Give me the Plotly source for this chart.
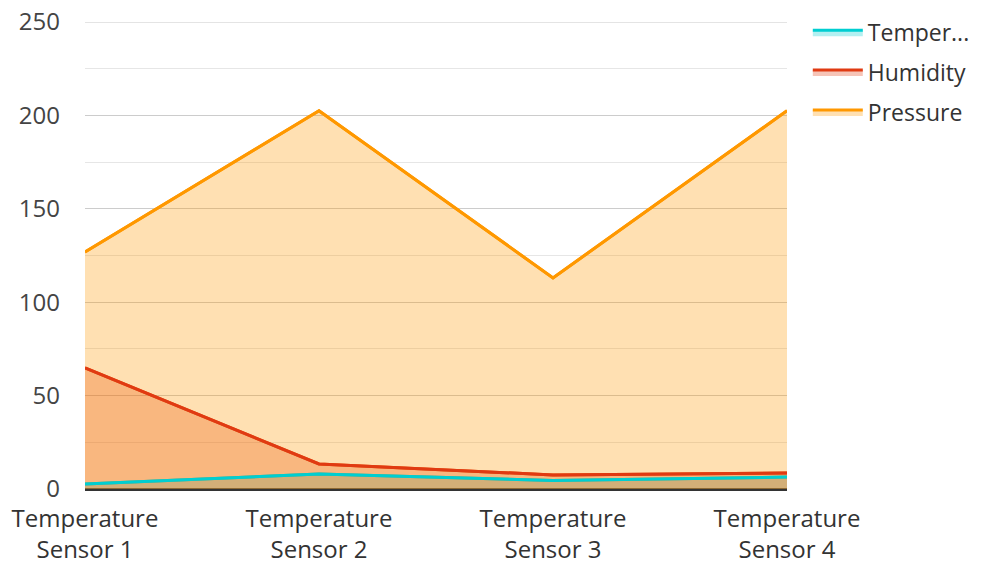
import plotly.graph_objects as go

categories = ["Temperature<br>Sensor 1", "Temperature<br>Sensor 2", "Temperature<br>Sensor 3", "Temperature<br>Sensor 4"]
series_names = ["Temper...", "Humidity", "Pressure"]
temperature = [2.7, 8.0, 4.6, 6.4]
humidity = [64.8, 13.4, 7.5, 8.6]
pressure = [126.9, 202.5, 113.0, 202.5]
y_ticks = [0, 50, 100, 150, 200, 250]
line_colors = ["#00CED1", "#E03A12", "#FF9800"]
fill_colors = ["rgba(0,206,209,0.3)", "rgba(224,58,18,0.3)", "rgba(255,152,0,0.3)"]
series_values = [temperature, humidity, pressure]

fig = go.Figure()
# fills (with legend entries) in series order
for i, (name, vals, lc, fc) in enumerate(zip(series_names, series_values, line_colors, fill_colors)):
    fig.add_trace(go.Scatter(
        x=categories, y=vals, name=name, mode="lines", legendgroup=name, legendrank=i + 1,
        line=dict(color=lc, width=3), fill="tozeroy", fillcolor=fc,
    ))
# lines on top of all fills, Temperature drawn last
for name, vals, lc in reversed(list(zip(series_names, series_values, line_colors))):
    fig.add_trace(go.Scatter(
        x=categories, y=vals, name=name, mode="lines", legendgroup=name, showlegend=False,
        line=dict(color=lc, width=3), hoverinfo="skip",
    ))

# top gridline at the edge of the plot
fig.add_hline(y=y_ticks[-1], line=dict(color="#cccccc", width=1), layer="below")

# page body has an 8px offset, so the figure is shifted accordingly
fig.update_layout(
    width=973, height=553,
    margin=dict(l=77, r=194, t=14, b=72),
    paper_bgcolor="white", plot_bgcolor="white",
    font=dict(family="Open Sans, Noto Sans, sans-serif", size=24, color="#444444"),
    showlegend=True,
    legend=dict(xref="container", yref="container", x=0.822, y=0.995,
                xanchor="left", yanchor="top",
                font=dict(size=23, color="#333333"), traceorder="grouped",
                itemwidth=50, tracegroupgap=7),
)
fig.update_xaxes(
    range=[0, 3], showgrid=False, showline=False, zeroline=False, automargin=False,
    tickfont=dict(size=24, color="#333333"), ticks="", ticklabelstandoff=13,
    ticklabeloverflow="allow",
)
fig.update_yaxes(
    range=[0, 250.01], tickvals=y_ticks, automargin=False,
    showgrid=True, gridcolor="#cccccc", gridwidth=1,
    minor=dict(tickvals=[25, 75, 125, 175, 225], showgrid=True, gridcolor="#e6e6e6", gridwidth=1),
    zeroline=True, zerolinecolor="#333333", zerolinewidth=2.5,
    showline=False, ticks="", ticklabelstandoff=24, ticklabeloverflow="allow",
    tickfont=dict(size=24, color="#444444"),
)
fig.write_html("out.html")
